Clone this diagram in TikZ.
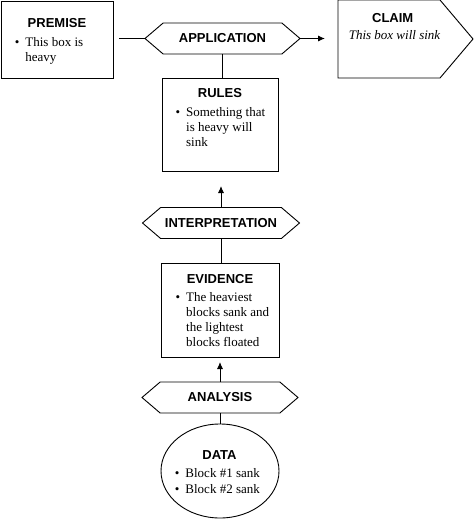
\documentclass[tikz,border=0pt]{standalone}
\usepackage{fontspec}
\setmainfont{Liberation Serif}
\setsansfont{Liberation Sans}
\usetikzlibrary{shapes.symbols,shapes.geometric,arrows.meta}
\begin{document}
\begin{tikzpicture}[x=1pt,y=-1pt,line width=0.9pt,
  box/.style={draw,rectangle,inner sep=0,outer sep=0},
  hexa/.style={draw,signal,signal to=west and east,signal pointer angle=81,
    minimum height=31,inner sep=0,outer sep=0,
    font=\sffamily\bfseries\fontsize{13}{15}\selectfont},
  ttl/.style={font=\sffamily\bfseries\fontsize{13}{15}\selectfont,inner sep=0,anchor=base},
  body/.style={font=\fontsize{13}{15}\selectfont,align=left,inner sep=0,anchor=base west},
  arr/.style={-{Latex[length=7pt,width=6pt]}}]
\useasboundingbox (0,0) rectangle (474,519);
\newcommand{\bul}{\llap{\textbullet\hspace{6pt}}}
% boxes
\node[box,minimum width=112,minimum height=77] (premise) at (57,39.5) {};
\node[rectangle,inner sep=0,outer sep=0,minimum width=102,minimum height=78] (claim) at (389,39) {};
\draw (claim.north west) -- (claim.north east) -- ([xshift=33pt]claim.east)
  -- (claim.south east) -- (claim.south west) -- cycle;
\node[hexa,minimum width=155] (app) at (222.5,38.5) {APPLICATION};
\node[box,minimum width=116,minimum height=93] (rules) at (220,124.5) {};
\node[hexa,minimum width=157] (interp) at (221,223) {INTERPRETATION};
\node[box,minimum width=118,minimum height=94] (evidence) at (220,310) {};
\node[hexa,minimum width=156] (analysis) at (220,397.5) {ANALYSIS};
\node[draw,ellipse,minimum width=118,minimum height=94,inner sep=0,outer sep=0] (data) at (220,471) {};
% texts (base anchor = baseline of the last line)
\node[ttl] (premt) at (57,27.3) {PREMISE};
\node[body] (premb) at (25,62) {\bul This box is\\heavy};
\node[ttl] (claimt) at (392.7,22.7) {CLAIM};
\node[font=\itshape\fontsize{13}{15}\selectfont,inner sep=0,anchor=base] (claimb) at (394.5,40) {This box will sink};
\node[ttl] (rulest) at (220,97.7) {RULES};
\node[body] (rulesb) at (185.7,146.7) {\bul Something that\\is heavy will\\sink};
\node[ttl] (evt) at (220,283.3) {EVIDENCE};
\node[body] (evb) at (185.7,346.7) {\bul The heaviest\\blocks sank and\\the lightest\\blocks floated};
\node[ttl] (datat) at (219.5,459) {DATA};
\node[body,font=\fontsize{13}{15.5}\selectfont] (datab) at (185,493.2) {\bul Block \#1 sank\\\bul Block \#2 sank};
% connectors
\draw[shorten <=6pt] (premise.east |- app.west) -- (app.west);
\draw[arr,shorten >=13pt] (app.east) -- (claim.west |- app.east);
\draw (app.south) -- (app.south |- rules.north);
\draw[arr,shorten >=15pt] (interp.north) -- (interp.north |- rules.south);
\draw (interp.south) -- (interp.south |- evidence.north);
\draw[arr,shorten >=5pt] (analysis.north) -- (analysis.north |- evidence.south);
\draw (analysis.south) -- (analysis.south |- data.north);
\end{tikzpicture}
\end{document}
